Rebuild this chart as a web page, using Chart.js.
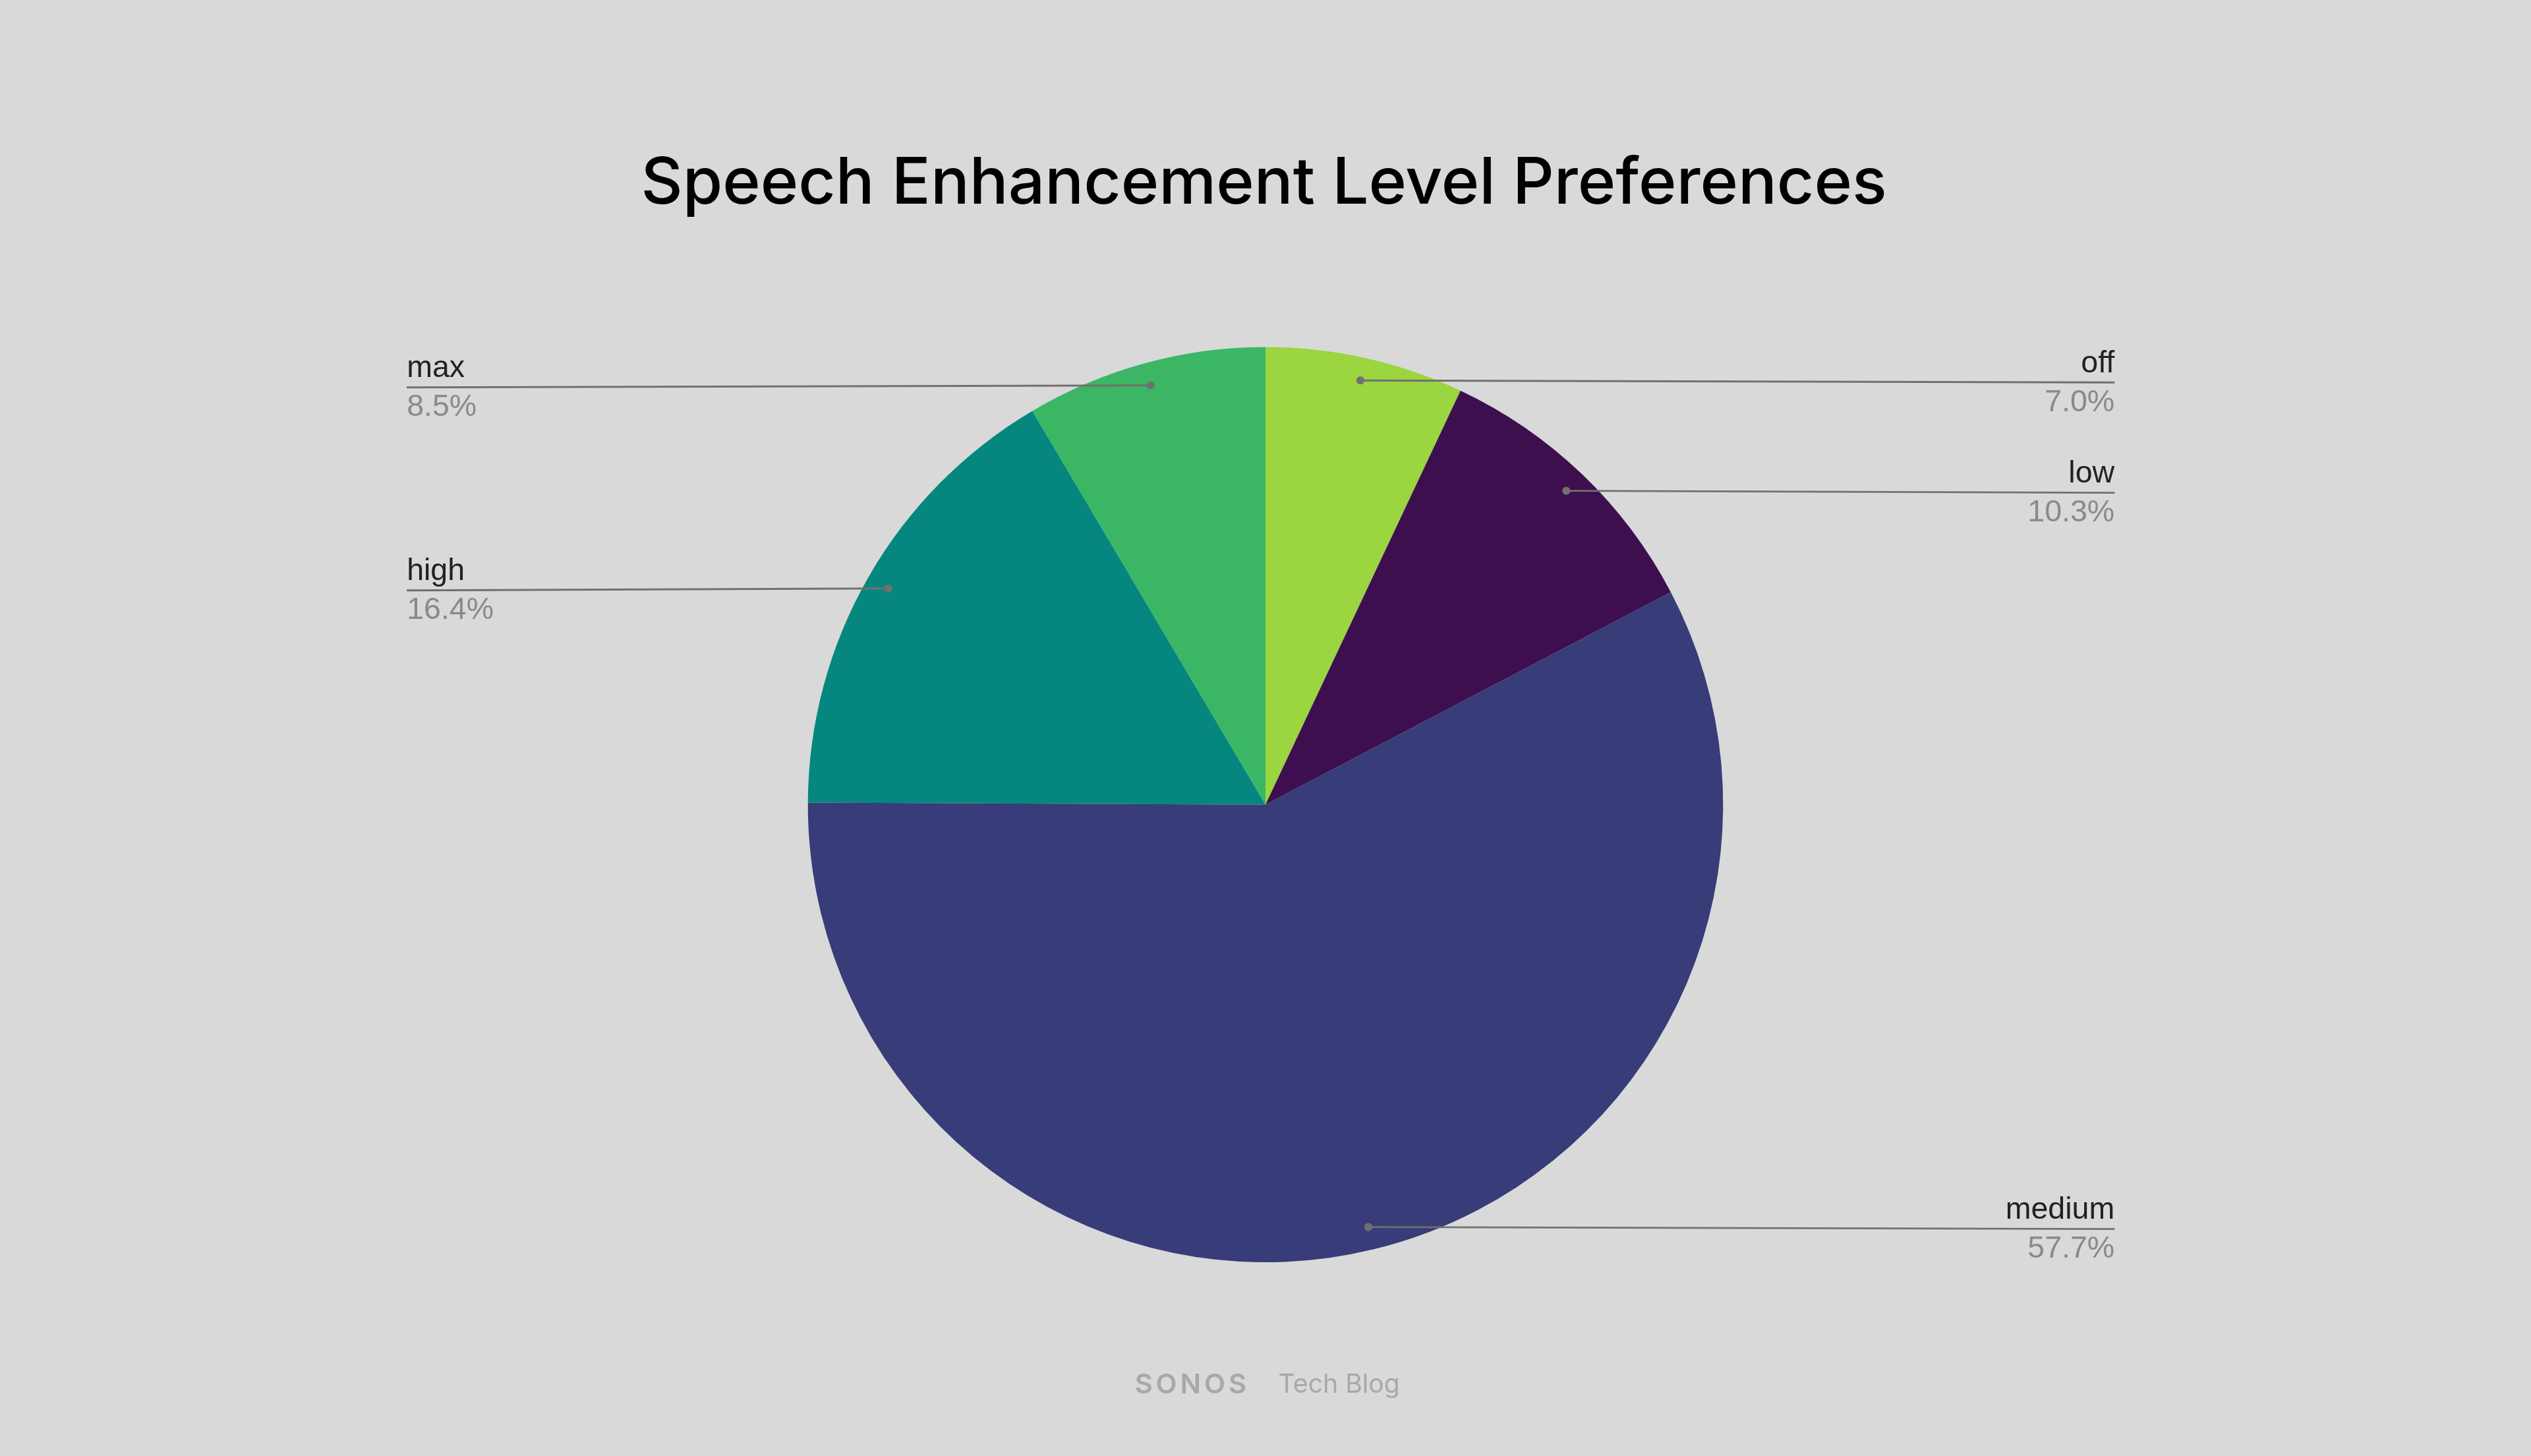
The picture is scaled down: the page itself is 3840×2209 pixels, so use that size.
<!DOCTYPE html>
<html>
<head>
<meta charset="utf-8">
<script src="https://cdn.jsdelivr.net/npm/chart.js@4"></script>
<style>
  html, body { margin: 0; padding: 0; background: #d9d9d9; }
  #wrap { width: 3840px; height: 2209px; }
</style>
</head>
<body>
<div id="wrap"><canvas id="chart"></canvas></div>
<script>
// Data
const levels = ['off', 'low', 'medium', 'high', 'max'];
const shares = [7.0, 10.3, 57.7, 16.4, 8.5];
const sliceColors = ['#9bd53f', '#3d0f4f', '#383c78', '#058780', '#3bb665'];

const S = 3840 / 1568;

// Title, leader lines, footer
const annotate = {
    id: 'annotate',
    afterDraw(chart) {
        const ctx = chart.ctx;
        ctx.save();
        ctx.fillStyle = '#000';
        ctx.textAlign = 'center';
        ctx.textBaseline = 'middle';
        ctx.font = `500 ${40 * S}px Inter, Roboto, sans-serif`;
        ctx.fillText('Speech Enhancement Level Preferences', 783 * S, 114 * S);

        const meta = chart.getDatasetMeta(0);
        meta.data.forEach((arc, i) => {
            const mid = (arc.startAngle + arc.endAngle) / 2;
            const r = arc.outerRadius * 0.95;
            const px = arc.x + Math.cos(mid) * r;
            const py = arc.y + Math.sin(mid) * r;
            const right = Math.cos(mid) > 0;
            const lx = (right ? 1310 : 252) * S;
            const ly = py + 3;
            ctx.strokeStyle = '#707070';
            ctx.lineWidth = 2 * S * 0.6;
            ctx.beginPath();
            ctx.moveTo(px, py);
            ctx.lineTo(lx, ly);
            ctx.stroke();
            ctx.fillStyle = '#707070';
            ctx.beginPath();
            ctx.arc(px, py, 2.5 * S, 0, Math.PI * 2);
            ctx.fill();
            ctx.textAlign = right ? 'right' : 'left';
            ctx.font = `${19 * S}px "Liberation Sans", Arial, sans-serif`;
            ctx.fillStyle = '#222';
            ctx.textBaseline = 'bottom';
            ctx.fillText(levels[i], lx, ly - 2 * S);
            ctx.fillStyle = '#8a8a8a';
            ctx.textBaseline = 'top';
            ctx.fillText(shares[i].toFixed(1) + '%', lx, ly + 3 * S);
        });

        ctx.textAlign = 'left';
        ctx.textBaseline = 'middle';
        ctx.fillStyle = '#a8a8a8';
        ctx.font = `600 ${17 * S}px Inter, sans-serif`;
        ctx.letterSpacing = `${2 * S}px`;
        ctx.fillText('SONOS', 703 * S, 858 * S);
        ctx.letterSpacing = '0px';
        ctx.font = `${16 * S}px Inter, sans-serif`;
        ctx.fillText('Tech Blog', 792 * S, 858 * S);
        ctx.restore();
    }
};

new Chart(document.getElementById('chart'), {
    type: 'pie',
    data: {
        labels: levels,
        datasets: [{
            data: shares,
            backgroundColor: sliceColors,
            borderWidth: 0
        }]
    },
    options: {
        responsive: true,
        maintainAspectRatio: false,
        animation: false,
        layout: { padding: { top: 215 * S, bottom: 2209 - 782 * S, left: 400, right: 400 } },
        plugins: {
            legend: { display: false },
            tooltip: { enabled: false }
        }
    },
    plugins: [annotate]
});
</script>
</body>
</html>
